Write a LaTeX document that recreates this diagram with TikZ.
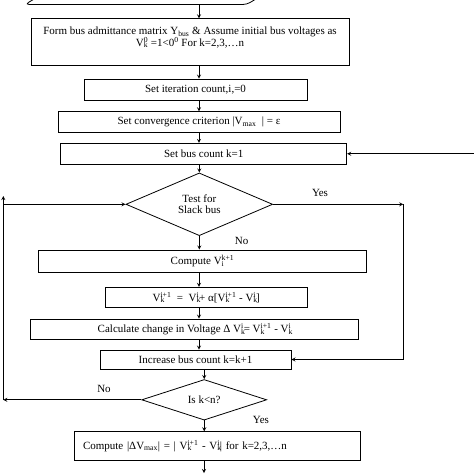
\documentclass[tikz,border=0pt]{standalone}
\usepackage{fontspec}
\setmainfont{Liberation Serif}
\usetikzlibrary{shapes.geometric, positioning, arrows.meta}
\newcommand{\subsup}[2]{\rlap{\textsubscript{#1}}\textsuperscript{#2}}

\begin{document}
\begin{tikzpicture}[
    x=1pt, y=-1pt,
    font=\fontsize{11}{11.5}\selectfont,
    boxstyle/.style={draw, line width=0.8pt, inner sep=2pt, align=center},
    decisionstyle/.style={draw, diamond, line width=0.8pt, inner sep=0pt, align=center},
    arrowstyle/.style={->,>=stealth, line width=0.8pt}
]
\useasboundingbox (0,0) rectangle (474,474);

% Input block (cut off at the top)
\node[draw, trapezium, trapezium left angle=60, trapezium right angle=120,
      trapezium stretches=true, minimum width=303pt, minimum height=49pt,
      rounded corners=4pt, line width=0.8pt] (start) at (176.5,-20) {};

% Process blocks
\node[boxstyle, minimum width=318pt, minimum height=47pt] (ybus) at (190,42.3)
    {Form bus admittance matrix Y\textsubscript{bus} \& Assume initial bus voltages as\\
     V\subsup{k}{0} =1<0\textsuperscript{0} For k=2,3,…n\\ ~};
\node[boxstyle, minimum width=223pt, minimum height=21.7pt] (iter) at (195.5,89.9)
    {Set iteration count,i,=0};
\node[boxstyle, minimum width=282pt, minimum height=21pt] (conv) at (199,122.2)
    {Set convergence criterion |V\textsubscript{max}\ \ | = ε};
\node[boxstyle, minimum width=286pt, minimum height=20.7pt] (busk) at (203.7,153.7)
    {Set bus count k=1};

% Slack test
\node[decisionstyle, minimum width=146.7pt, minimum height=62.7pt] (slack) at (199.3,204.3)
    {Test for\\Slack bus};

\node[boxstyle, minimum width=328.4pt, minimum height=22.7pt] (compv) at (202.5,261.3)
    {Compute V\subsup{i}{k+1}};
\node[boxstyle, minimum width=202.3pt, minimum height=20pt] (accel) at (206.2,297.3)
    {V\subsup{k}{i+1}\ \ = \ V\subsup{k}{i}+ α[V\subsup{k}{i+1} - V\subsup{k}{i}]};
\node[boxstyle, minimum width=327.6pt, minimum height=20.3pt] (delta) at (194.5,329.2)
    {Calculate change in Voltage Δ V\subsup{k}{i}= V\subsup{k}{i+1} - V\subsup{k}{i}};
\node[boxstyle, minimum width=191pt, minimum height=19pt] (incr) at (195.5,359.5)
    {Increase bus count k=k+1};

% Last bus test
\node[decisionstyle, minimum width=125pt, minimum height=38.3pt] (lastbus) at (204.2,399.8)
    {Is k<n?};

\node[boxstyle, text width=268pt, align=left, inner xsep=9pt, minimum height=28.3pt] (dvmax) at (217,445.9)
    {Compute |ΔV\textsubscript{max}| = | V\subsup{k}{i+1} - V\subsup{k}{i}| for k=2,3,…n};

% Branch labels
\node (yeslabel1) at (320,193) {Yes};
\node (nolabel1) at (241.7,241) {No};
\node (nolabel2) at (104,389) {No};
\node (yeslabel2) at (261,420) {Yes};

% Rails and free ends
\coordinate (spine) at (199,0);
\coordinate (rightrail) at (403.3,0);
\coordinate (leftrail) at (3.3,0);
\coordinate (railtop) at (3.3,196);
\coordinate (fromright) at (474,153.7);
\coordinate (exit) at (204,473);

% Arrows
\draw[arrowstyle] (start.south -| spine) -- (ybus.north -| spine);
\foreach \a/\b in {ybus/iter, iter/conv, conv/busk, compv/accel, accel/delta, delta/incr}
    \draw[arrowstyle] (\a.south -| spine) -- (\b.north -| spine);
\draw[arrowstyle] (busk.south -| slack.north) -- (slack.north);
\draw[arrowstyle] (slack.south) -- (slack.south |- compv.north);
\draw[arrowstyle] (incr.south -| lastbus.north) -- (lastbus.north);
\draw[arrowstyle] (lastbus.south) -- (lastbus.south |- dvmax.north);
\draw[arrowstyle] (dvmax.south -| exit) -- (exit);
\draw[arrowstyle] (fromright) -- (busk.east);

% Yes: skip to next bus
\draw[arrowstyle] (slack.east) -- (slack.east -| rightrail);
\draw[arrowstyle] (slack.east -| rightrail) -- (incr.east -| rightrail) -- (incr.east);

% No: loop back to slack test
\draw[arrowstyle] (lastbus.west) -- (lastbus.west -| leftrail);
\draw[arrowstyle] (lastbus.west -| leftrail) -- (railtop);
\draw[arrowstyle] (slack.west -| leftrail) -- (slack.west);

\end{tikzpicture}
\end{document}
